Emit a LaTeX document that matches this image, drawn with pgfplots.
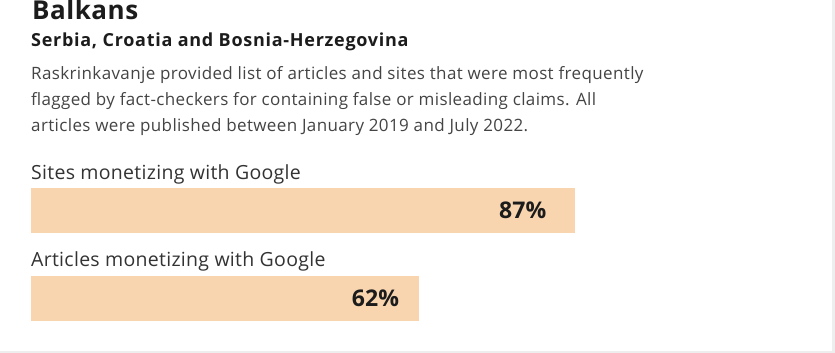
\documentclass[border=0pt]{standalone}
\usepackage{pgfplots}
\pgfplotsset{compat=1.18}
\usepackage{fontspec}
\setmainfont{Open Sans}
\definecolor{barc}{HTML}{F8D5AF}
\definecolor{titc}{HTML}{1C1C1C}
\definecolor{desc}{HTML}{444444}
\definecolor{labc}{HTML}{333333}
\definecolor{edge}{HTML}{EEEEEE}
\begin{document}
\begin{tikzpicture}[x=1pt,y=1pt]
\useasboundingbox (0,0) rectangle (835,353);
\clip (0,0) rectangle (835,353);
\fill[white] (0,0) rectangle (835,353);
\fill[edge] (832,0) rectangle (835,353);
\fill[edge] (0,0) rectangle (835,2);
% titles
\node[anchor=base west, inner sep=0pt, text=titc, font=\fontsize{26}{28}\selectfont\bfseries\addfontfeatures{LetterSpace=2}] at (32,333) {Balkans};
\node[anchor=base west, inner sep=0pt, text=titc, font=\fontsize{18}{20}\selectfont\bfseries\addfontfeatures{LetterSpace=4}] at (31,306) {Serbia, Croatia and Bosnia-Herzegovina};
\node[anchor=base west, inner sep=0pt, text=desc, font=\fontsize{17}{19}\selectfont\addfontfeatures{LetterSpace=2.2}] at (31,273) {Raskrinkavanje provided list of articles and sites that were most frequently};
\node[anchor=base west, inner sep=0pt, text=desc, font=\fontsize{17}{19}\selectfont\addfontfeatures{LetterSpace=2.2}] at (31,247) {flagged by fact-checkers for containing false or misleading claims. All};
\node[anchor=base west, inner sep=0pt, text=desc, font=\fontsize{17}{19}\selectfont\addfontfeatures{LetterSpace=2.2}] at (31,221) {articles were published between January 2019 and July 2022.};
\node[anchor=base west, inner sep=0pt, text=labc, font=\fontsize{19.5}{21}\selectfont\addfontfeatures{LetterSpace=1.5}] at (31,173) {Sites monetizing with Google};
\node[anchor=base west, inner sep=0pt, text=labc, font=\fontsize{19.5}{21}\selectfont\addfontfeatures{LetterSpace=1.5}] at (31,86) {Articles monetizing with Google};
\begin{axis}[at={(31pt,0pt)}, anchor=origin, scale only axis, width=625pt, height=353pt,
  xmin=0, xmax=100, ymin=0, ymax=353, hide axis, clip=false,
  /pgf/number format/assume math mode=true]
\addplot[xbar, bar width=45pt, fill=barc, draw=none, point meta=x,
  nodes near coords={\pgfmathprintnumber{\pgfplotspointmeta}\%},
  every node near coord/.append style={anchor=east, xshift=-25pt, text=titc, font=\fontsize{23}{26}\selectfont\bfseries}]
  coordinates {(87,142.5)};
\addplot[xbar, bar width=45pt, fill=barc, draw=none, point meta=x,
  nodes near coords={\pgfmathprintnumber{\pgfplotspointmeta}\%},
  every node near coord/.append style={anchor=east, xshift=-16pt, text=titc, font=\fontsize{23}{26}\selectfont\bfseries}]
  coordinates {(62,54.5)};
\end{axis}
\end{tikzpicture}
\end{document}
